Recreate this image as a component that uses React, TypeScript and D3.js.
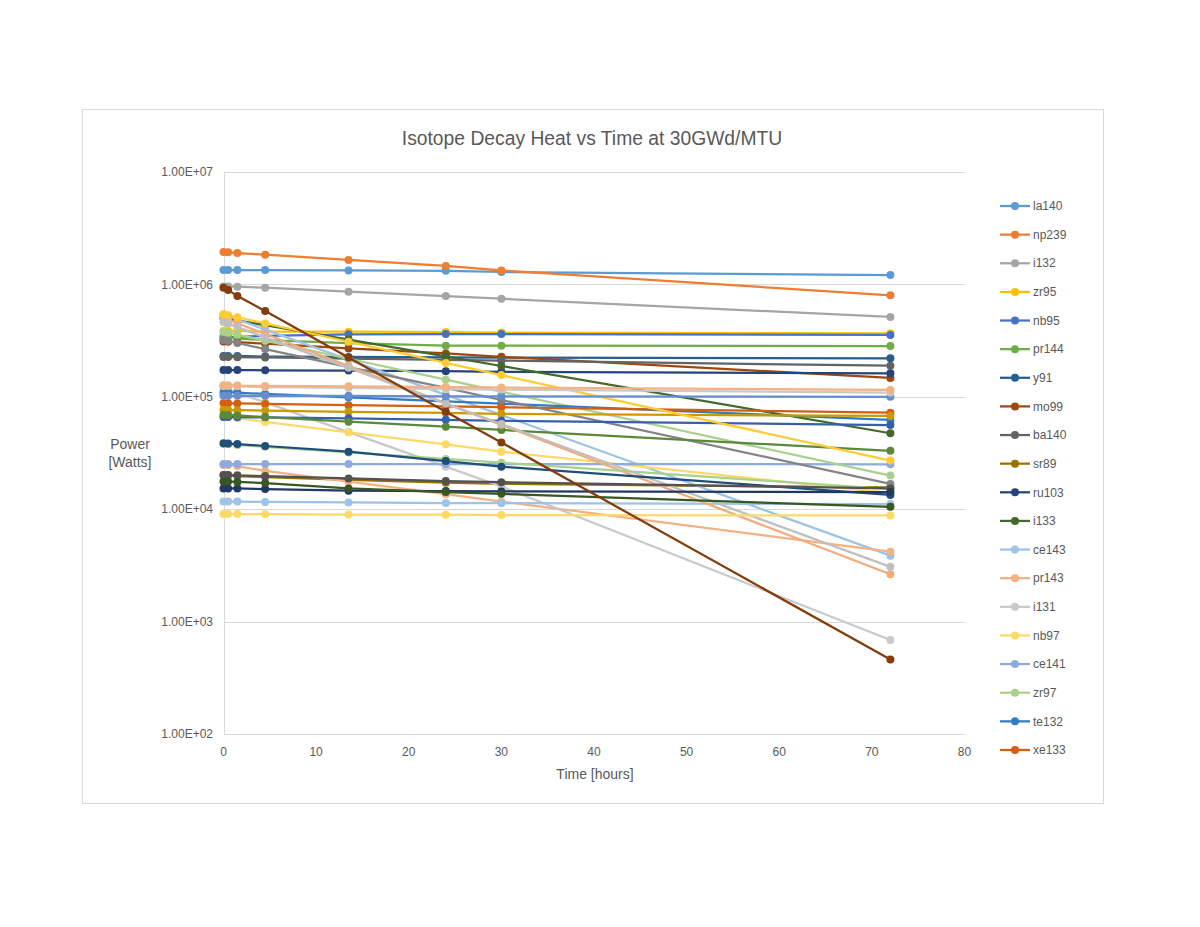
import { useRef, useEffect } from "react";
import * as d3 from "d3";

// sample times in hours
const times = [0, 0.5, 1.5, 4.5, 13.5, 24, 30, 72];

const yTicks = [1e2, 1e3, 1e4, 1e5, 1e6, 1e7];
const xTicks = [0, 10, 20, 30, 40, 50, 60, 70, 80];

// series shown in the legend (watts)
const la140 = [1.34e6, 1.34e6, 1.34e6, 1.34e6, 1.33e6, 1.32e6, 1.29e6, 1.21e6];
const np239 = [1.94e6, 1.93e6, 1.9e6, 1.84e6, 1.65e6, 1.46e6, 1.33e6, 8.0e5];
const i132 = [9.58e5, 9.58e5, 9.54e5, 9.35e5, 8.61e5, 7.88e5, 7.46e5, 5.13e5];
const zr95 = [3.85e5, 3.85e5, 3.85e5, 3.81e5, 3.8e5, 3.77e5, 3.73e5, 3.67e5];
const nb95 = [3.4e5, 3.4e5, 3.42e5, 3.48e5, 3.6e5, 3.62e5, 3.62e5, 3.55e5];
const pr144 = [3.34e5, 3.34e5, 3.3e5, 3.2e5, 3.01e5, 2.85e5, 2.85e5, 2.83e5];
const y91 = [2.31e5, 2.31e5, 2.31e5, 2.28e5, 2.26e5, 2.24e5, 2.23e5, 2.2e5];
const mo99 = [3.11e5, 3.09e5, 3.06e5, 2.97e5, 2.69e5, 2.43e5, 2.27e5, 1.47e5];
const ba140 = [2.26e5, 2.26e5, 2.25e5, 2.24e5, 2.19e5, 2.13e5, 2.1e5, 1.89e5];
const sr89 = [2.0e4, 2.0e4, 1.97e4, 1.93e4, 1.82e4, 1.72e4, 1.68e4, 1.56e4];
const ru103 = [1.73e5, 1.73e5, 1.73e5, 1.72e5, 1.71e5, 1.69e5, 1.67e5, 1.62e5];
const i133 = [5.02e5, 4.94e5, 4.78e5, 4.34e5, 3.23e5, 2.29e5, 1.88e5, 4.74e4];
const ce143 = [5.4e5, 5.21e5, 4.87e5, 3.96e5, 2.14e5, 1.04e5, 6.89e4, 3.86e3];
const pr143 = [2.47e4, 2.47e4, 2.42e4, 2.19e4, 1.76e4, 1.36e4, 1.17e4, 4.19e3];
const i131 = [1.21e5, 1.17e5, 1.09e5, 8.91e4, 4.85e4, 2.39e4, 1.59e4, 6.86e2];
const nb97 = [6.65e4, 6.61e4, 6.48e4, 5.97e4, 4.83e4, 3.78e4, 3.25e4, 1.39e4];
const ce141 = [2.52e4, 2.52e4, 2.52e4, 2.52e4, 2.52e4, 2.52e4, 2.52e4, 2.51e4];
const zr97 = [3.8e5, 3.72e5, 3.57e5, 3.16e5, 2.18e5, 1.42e5, 1.11e5, 1.99e4];
const te132 = [1.1e5, 1.1e5, 1.09e5, 1.06e5, 9.9e4, 9.1e4, 8.68e4, 6.22e4];
const xe133 = [8.75e4, 8.74e4, 8.72e4, 8.65e4, 8.43e4, 8.21e4, 8.08e4, 7.22e4];

// series plotted but cut off from the legend
const extra1 = [3.2e5, 3.14e5, 3.01e5, 2.66e5, 1.84e5, 1.2e5, 9.37e4, 1.68e4];
const extra2 = [7.63e4, 7.63e4, 7.6e4, 7.55e4, 7.36e4, 7.18e4, 7.06e4, 6.75e4];
const extra3 = [6.61e4, 6.61e4, 6.58e4, 6.57e4, 6.44e4, 6.24e4, 6.12e4, 5.61e4];
const extra4 = [6.89e4, 6.89e4, 6.82e4, 6.61e4, 6.0e4, 5.42e4, 5.07e4, 3.31e4];
const extra5 = [1.17e4, 1.17e4, 1.17e4, 1.16e4, 1.15e4, 1.135e4, 1.13e4, 1.11e4];
const extra6 = [5.02e5, 4.84e5, 4.51e5, 3.62e5, 1.88e5, 8.74e4, 5.63e4, 2.64e3];
const extra7 = [4.63e5, 4.47e5, 4.17e5, 3.38e5, 1.81e5, 8.7e4, 5.73e4, 3.07e3];
const extra8 = [5.42e5, 5.31e5, 5.1e5, 4.5e5, 3.09e5, 2.0e5, 1.56e5, 2.71e4];
const extra9 = [1.02e5, 1.02e5, 1.02e5, 1.02e5, 1.02e5, 1.01e5, 1.01e5, 1.0e5];
const extra10 = [3.8e4, 3.78e4, 3.73e4, 3.59e4, 3.2e4, 2.8e4, 2.59e4, 1.51e4];
const extra11 = [3.86e4, 3.84e4, 3.8e4, 3.65e4, 3.25e4, 2.68e4, 2.39e4, 1.34e4];
const extra12 = [2.02e4, 2.02e4, 2.0e4, 1.97e4, 1.88e4, 1.78e4, 1.74e4, 1.53e4];
const extra13 = [1.53e4, 1.53e4, 1.53e4, 1.51e4, 1.46e4, 1.45e4, 1.44e4, 1.42e4];
const extra14 = [1.76e4, 1.76e4, 1.75e4, 1.71e4, 1.53e4, 1.42e4, 1.37e4, 1.05e4];
const extra15 = [1.25e5, 1.25e5, 1.24e5, 1.22e5, 1.2e5, 1.17e5, 1.16e5, 1.09e5];
const extra16 = [1.27e5, 1.27e5, 1.26e5, 1.25e5, 1.24e5, 1.22e5, 1.21e5, 1.15e5];
const extra17 = [9.06e3, 9.06e3, 9.06e3, 9.02e3, 8.97e3, 8.93e3, 8.87e3, 8.79e3];
const extra18 = [9.35e5, 8.9e5, 7.9e5, 5.8e5, 2.24e5, 7.36e4, 3.93e4, 4.6e2];

const legendNames = [
  "la140", "np239", "i132", "zr95", "nb95", "pr144", "y91", "mo99", "ba140", "sr89",
  "ru103", "i133", "ce143", "pr143", "i131", "nb97", "ce141", "zr97", "te132", "xe133",
];
const legendValues = [
  la140, np239, i132, zr95, nb95, pr144, y91, mo99, ba140, sr89,
  ru103, i133, ce143, pr143, i131, nb97, ce141, zr97, te132, xe133,
];
const legendColors = [
  "#5B9BD5", "#ED7D31", "#A5A5A5", "#FFC000", "#4472C4", "#70AD47", "#255E91", "#9E480E",
  "#636363", "#997300", "#264478", "#43682B", "#9DC3E6", "#F4B183", "#C9C9C9", "#FFD966",
  "#8FAADC", "#A9D18E", "#327DC2", "#D26012",
];

const extraValues = [
  extra1, extra2, extra3, extra4, extra5, extra6, extra7, extra8, extra9,
  extra10, extra11, extra12, extra13, extra14, extra15, extra16, extra17, extra18,
];
const extraColors = [
  "#848484", "#CC9A00", "#3660AB", "#5A8A39", "#9DC3E6", "#F2AA7A", "#BFBFBF", "#FFCD33",
  "#698ED0", "#A9D18E", "#1F4E79", "#525252", "#203864", "#385723", "#C9C9C9", "#F4B183",
  "#FFD966", "#843C0C",
];

const W = 1200;
const H = 927;
const textColor = "#595959";
const font = "'Liberation Sans', Arial, sans-serif";

const App = () => {
  const ref = useRef<SVGSVGElement | null>(null);

  useEffect(() => {
    if (ref.current === null) return;
    document.body.style.margin = "0";

    const svg = d3.select(ref.current);
    svg.selectAll("*").remove();

    const x = d3.scaleLinear().domain([0, 80]).range([223.5, 964.5]);
    const y = d3.scaleLog().domain([1e2, 1e7]).range([734, 172]);

    svg.append("rect").attr("width", W).attr("height", H).attr("fill", "#fff");

    // chart area border
    svg
      .append("rect")
      .attr("x", 82.5)
      .attr("y", 109.5)
      .attr("width", 1021)
      .attr("height", 694)
      .attr("fill", "#fff")
      .attr("stroke", "#D9D9D9");

    svg
      .append("text")
      .attr("x", 592)
      .attr("y", 145)
      .attr("text-anchor", "middle")
      .attr("font-family", font)
      .attr("font-size", 19.3)
      .attr("fill", textColor)
      .text("Isotope Decay Heat vs Time at 30GWd/MTU");

    // horizontal grid lines
    svg
      .append("g")
      .selectAll("line")
      .data(yTicks)
      .enter()
      .append("line")
      .attr("x1", x(0))
      .attr("x2", x(80))
      .attr("y1", (d) => Math.round(y(d)) + 0.5)
      .attr("y2", (d) => Math.round(y(d)) + 0.5)
      .attr("stroke", "#D9D9D9");

    // vertical axis line
    svg
      .append("line")
      .attr("x1", Math.round(x(0)) + 0.5)
      .attr("x2", Math.round(x(0)) + 0.5)
      .attr("y1", y(1e7))
      .attr("y2", y(1e2))
      .attr("stroke", "#D9D9D9");

    svg
      .append("g")
      .selectAll("text")
      .data(yTicks)
      .enter()
      .append("text")
      .attr("x", 213)
      .attr("y", (d) => y(d))
      .attr("dy", "0.35em")
      .attr("text-anchor", "end")
      .attr("font-family", font)
      .attr("font-size", 12)
      .attr("fill", textColor)
      .text((d) => {
        const e = Math.round(Math.log10(d));
        return `1.00E+${String(e).padStart(2, "0")}`;
      });

    svg
      .append("g")
      .selectAll("text")
      .data(xTicks)
      .enter()
      .append("text")
      .attr("x", (d) => x(d))
      .attr("y", 756)
      .attr("text-anchor", "middle")
      .attr("font-family", font)
      .attr("font-size", 12)
      .attr("fill", textColor)
      .text((d) => String(d));

    svg
      .append("text")
      .attr("x", 595)
      .attr("y", 779)
      .attr("text-anchor", "middle")
      .attr("font-family", font)
      .attr("font-size", 14)
      .attr("fill", textColor)
      .text("Time [hours]");

    const yTitle = svg
      .append("text")
      .attr("text-anchor", "middle")
      .attr("font-family", font)
      .attr("font-size", 14)
      .attr("fill", textColor);
    yTitle.append("tspan").attr("x", 130).attr("y", 449).text("Power");
    yTitle.append("tspan").attr("x", 130).attr("y", 467).text("[Watts]");

    const all = [
      ...legendValues.map((v, i) => ({ values: v, color: legendColors[i] })),
      ...extraValues.map((v, i) => ({ values: v, color: extraColors[i] })),
    ];

    const line = d3
      .line<number>()
      .x((_, i) => x(times[i]))
      .y((d) => y(d));

    const plot = svg.append("g");
    all.forEach((s) => {
      const g = plot.append("g");
      g.append("path")
        .attr("d", line(s.values))
        .attr("fill", "none")
        .attr("stroke", s.color)
        .attr("stroke-width", 2.25)
        .attr("stroke-linejoin", "round");
      g.selectAll("circle")
        .data(s.values)
        .enter()
        .append("circle")
        .attr("cx", (_, i) => x(times[i]))
        .attr("cy", (d) => y(d))
        .attr("r", 4)
        .attr("fill", s.color);
    });

    // legend
    const legend = svg.append("g");
    legendNames.forEach((name, i) => {
      const ly = 206 + i * 28.63;
      const g = legend.append("g").attr("transform", `translate(0,${ly})`);
      g.append("line")
        .attr("x1", 1000)
        .attr("x2", 1030)
        .attr("stroke", legendColors[i])
        .attr("stroke-width", 2.25);
      g.append("circle").attr("cx", 1015).attr("r", 4).attr("fill", legendColors[i]);
      g.append("text")
        .attr("x", 1033)
        .attr("dy", "0.35em")
        .attr("font-family", font)
        .attr("font-size", 12)
        .attr("fill", textColor)
        .text(name);
    });
  }, []);

  return (
    <div style={{ position: "absolute", left: 0, top: 0 }}>
      <svg ref={ref} width={W} height={H} />
    </div>
  );
};

export default App;
